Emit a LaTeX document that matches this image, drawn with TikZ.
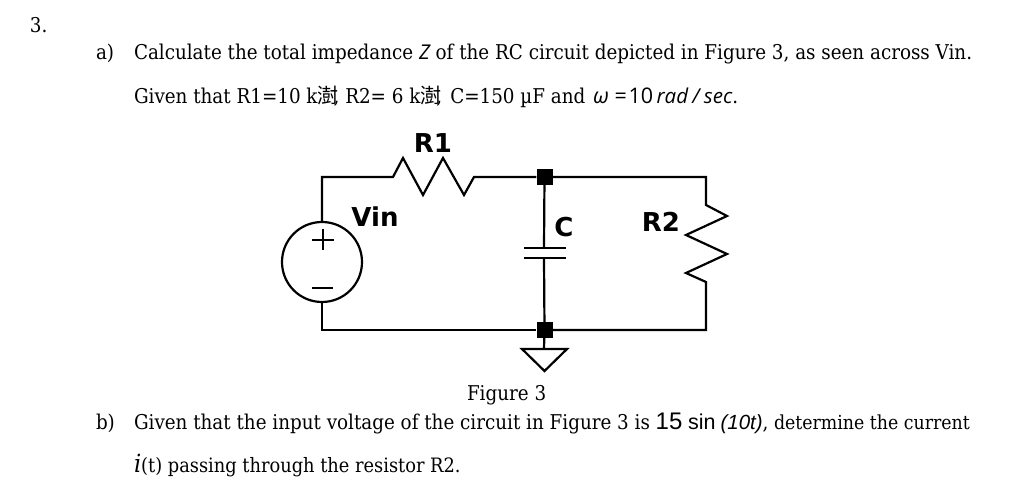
\documentclass[tikz,border=0pt]{standalone}
\usepackage{fontspec}
\setmainfont{DejaVu Serif Condensed}
\newfontfamily\cjkf{Noto Sans CJK SC}
\newfontfamily\sansf{Open Sans}
\newfontfamily\boldf{DejaVu Sans}
\newfontfamily\ssf{Liberation Sans}
\newcommand{\lgsz}{\fontsize{21.5}{24}\selectfont}
\newcommand{\midsz}{\fontsize{20.5}{24}\selectfont}
\newcommand{\bigsz}{\fontsize{24}{26}\selectfont}
\newcommand{\tightsz}{\fontsize{19.3}{22}\selectfont}
\newcommand{\glyphz}{{\cjkf\fontsize{21}{22}\selectfont 澍}}
\begin{document}
\begin{tikzpicture}[x=1pt,y=-1pt,
  txt/.style={anchor=base west,inner sep=0pt,outer sep=0pt,font=\fontsize{20.37}{22}\selectfont},
  wire/.style={line width=2.2pt,line join=miter},
  lbl/.style={inner sep=0pt,font=\boldf\bfseries\fontsize{26}{27}\selectfont},
  junction/.style={fill=black,inner sep=0pt,minimum width=16pt,minimum height=16pt,rectangle}]
\useasboundingbox (0,0) rectangle (1021,494);
\fill[white] (0,0) rectangle (1021,494);
\node[txt] (n3) at (30,33) {3.};
\node[txt] (a) at (96,60) {a)};
\node[txt] (l1) at (134,60) {Calculate the total impedance {\sansf\itshape Z} of the RC circuit depicted in Figure 3, as seen across Vin.};
\node[txt] (b) at (96,430) {b)};
\node[txt] (l2) at (134,104) {Given that R1=10 k\glyphz\kern-5pt, R2= 6 k\glyphz\kern-5pt,\kern8pt C=150 µF and \kern2pt{\sansf\lgsz\itshape ω} {\sansf\lgsz =\kern2pt\ \kern-6pt10}{\sansf\midsz\itshape\,rad\kern-1pt\ /\kern-1pt\ sec}.};
\node[txt] (fig) at (467,401) {Figure 3};
\node[txt] (l3) at (134,430) {Given that the input voltage of the circuit in Figure 3 is {\ssf\bigsz 15 }{\ssf\lgsz\kern-1pt sin\kern-1pt\ {\itshape\midsz(10t)}},\kern0pt{\tightsz\ determine the current}};
\node[txt,font=\fontsize{19.8}{22}\selectfont] (l4) at (134,472) {{\itshape\fontsize{25}{26}\selectfont i}(t) passing through the resistor R2.};
% circuit
\coordinate (tl) at (322,177);
\coordinate (bl) at (322,330);
\coordinate (tr) at (706,177);
\coordinate (br) at (706,330);
\node[draw,circle,line width=2.2pt,minimum size=80pt,inner sep=0pt] (src) at (322,262) {};
\node[junction] (jt) at (544.5,177) {};
\node[junction] (jb) at (544.5,330) {};
\coordinate (r1a) at (393,177);
\coordinate (r1b) at (474,177);
\coordinate (r2a) at (706,205);
\coordinate (r2b) at (706,282);
\draw[wire] (src.north) -- (tl) -- (r1a) -- (403,158) -- (423,195) -- (443,158) -- (464,195) -- (r1b) -- (jt);
\draw[wire] (jt) -- (tr) -- (r2a) -- (727,216) -- (686,235) -- (727,254) -- (686,273) -- (r2b) -- (br) -- (jb);
\draw[wire] (src.south) -- (bl) -- (jb);
\coordinate (c1) at (544,248);
\coordinate (c2) at (544,258);
\draw[wire] (jt) -- (c1);
\draw[wire] (c2) -- (jb);
\draw[wire] (524,248) -- (566,248);
\draw[wire] (524,258) -- (566,258);
\coordinate (g) at (544,349);
\draw[wire] (jb) -- (g);
\draw[wire] (522,349) -- (567,349) -- (544.5,371) -- cycle;
\draw[line width=2pt] (312,240) -- (334,240) (323,229) -- (323,250);
\draw[line width=2pt] (312,288) -- (333,288);
\node[lbl] (R1) at (433,143) {R1};
\node[lbl] (Vin) at (375,217) {Vin};
\node[lbl] (C) at (564,227) {C};
\node[lbl] (R2) at (661,222) {R2};
\end{tikzpicture}
\end{document}
